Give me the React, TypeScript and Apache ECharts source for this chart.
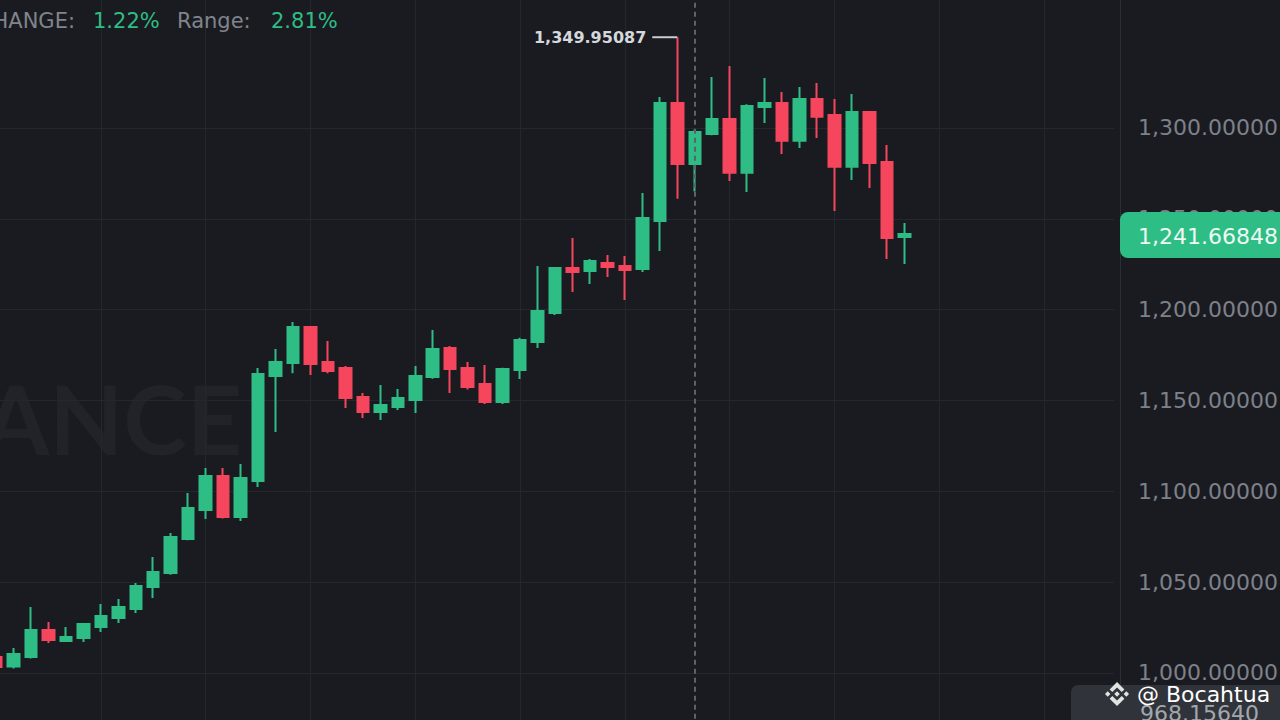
import React, { useEffect, useRef } from "react";
import * as echarts from "echarts";

// ---- data ----
const opens = [
  1008.8, 1003.5, 1008.8, 1023.7, 1017.6, 1019.3, 1025.3, 1030.3, 1035.2, 1047.3,
  1055.0, 1073.8, 1089.7, 1108.4, 1085.9, 1105.7, 1163.5, 1170.6, 1190.4, 1171.2,
  1167.9, 1151.9, 1143.7, 1146.4, 1150.3, 1162.9, 1178.9, 1167.9, 1159.1, 1149.2,
  1166.8, 1182.2, 1198.2, 1222.9, 1221.2, 1225.7, 1224.0, 1222.4, 1248.8, 1313.8,
  1280.2, 1296.7, 1305.0, 1275.3, 1311.5, 1313.8, 1292.9, 1316.0, 1307.2, 1278.6,
  1308.8, 1281.3, 1240.0,
];
const closes = [
  1003.3, 1010.5, 1023.7, 1018.2, 1019.8, 1027.0, 1031.4, 1036.3, 1047.9, 1055.6,
  1074.9, 1090.8, 1108.4, 1085.9, 1107.3, 1164.6, 1171.2, 1190.4, 1170.1, 1166.2,
  1151.4, 1143.7, 1147.5, 1151.4, 1163.5, 1178.3, 1167.3, 1157.4, 1149.2, 1167.3,
  1183.3, 1199.3, 1222.9, 1220.7, 1226.8, 1223.5, 1221.8, 1250.4, 1313.8, 1280.2,
  1297.8, 1305.0, 1275.3, 1312.1, 1313.8, 1292.9, 1316.0, 1306.2, 1278.6, 1308.8,
  1280.7, 1239.4, 1241.66848,
];
const lows = [
  1000.5, 1002.5, 1008.0, 1016.5, 1017.0, 1017.0, 1022.5, 1027.5, 1033.0, 1041.3,
  1054.0, 1073.0, 1084.8, 1085.0, 1083.7, 1102.4, 1132.6, 1165.0, 1164.0, 1165.0,
  1145.9, 1140.3, 1139.2, 1144.8, 1143.1, 1162.0, 1154.1, 1156.0, 1148.0, 1148.0,
  1161.8, 1178.9, 1197.0, 1209.7, 1214.1, 1218.0, 1205.3, 1220.7, 1232.3, 1261.0,
  1265.0, 1296.0, 1270.8, 1264.8, 1302.8, 1285.7, 1289.0, 1294.5, 1254.3, 1271.4,
  1267.0, 1227.9, 1225.1,
];
const highs = [
  1010.0, 1013.8, 1036.3, 1028.0, 1025.3, 1027.5, 1038.0, 1040.7, 1049.5, 1063.8,
  1077.0, 1099.0, 1112.8, 1112.8, 1115.0, 1167.9, 1178.3, 1193.2, 1191.0, 1182.7,
  1169.0, 1154.1, 1158.5, 1156.3, 1169.0, 1188.8, 1180.0, 1171.2, 1169.5, 1168.0,
  1184.5, 1224.0, 1223.5, 1239.4, 1227.9, 1230.1, 1229.5, 1264.2, 1317.1, 1349.95087,
  1299.0, 1328.0, 1334.1, 1313.0, 1327.5, 1319.8, 1322.6, 1324.8, 1316.0, 1318.7,
  1309.0, 1290.6, 1247.7,
];
const slotCount = 65; // candle slots on the x axis (empty ones on the right)
const categories = Array.from({ length: slotCount }, (_, i) => `C${i + 1}`);
const crosshairIndex = 40;
const highIndex = 39;
const yTicks = [950, 1000, 1050, 1100, 1150, 1200, 1250, 1300, 1350, 1400];
const hiddenTicks = [950, 1350, 1400];
const lastPriceLabel = "1,241.66848";
const lowestPriceLabel = "968.15640";
const changeLabel = "1.22%";
const rangeLabel = "2.81%";

const UP = "#2ebd85";
const DOWN = "#f6465d";
const BG = "#1a1b20";
const GRID = "#24272e";
const AXIS_TEXT = "#7d818a";
const FONT = "DejaVu Sans";

// the chart canvas is larger than the window and shifted, so that the
// plot area can extend past the window edges
const OX = 20;
const OY = 60;
const W = 1320;
const H = 840;

const fmt = (v: number) =>
  v.toLocaleString("en-US", { minimumFractionDigits: 5, maximumFractionDigits: 5 });

const logoPath =
  "M38.73 53.2L63.3 28.63l24.59 24.59 14.3-14.3L63.3 0 24.43 38.88l14.3 14.3z" +
  "M0 63.31l14.3-14.3 14.3 14.3-14.3 14.3z" +
  "M38.73 73.41L63.3 97.98l24.59-24.59 14.31 14.29-38.9 38.91-38.88-38.88-.02-.02 14.32-14.28z" +
  "M97.99 63.31l14.3-14.3 14.3 14.3-14.3 14.3z" +
  "M77.83 63.3L63.3 48.76 52.56 59.5l-1.24 1.23-2.54 2.54-.02.02.02.03L63.3 77.85l14.53-14.54.01-.01z";

let registered = false;

const txt = (x: number, y: number, text: string, fill: string, font: string, align = "left", z = 5) => ({
  type: "text",
  silent: true,
  z,
  x: x + OX,
  y: y + OY,
  style: { text, align, verticalAlign: "middle", fill, font },
});

export default function App() {
  const ref = useRef<HTMLDivElement>(null);

  useEffect(() => {
    if (!ref.current) return;
    if (!registered) {
      echarts.graphic.registerShape("logo", echarts.graphic.extendPath(logoPath, {}));
      registered = true;
    }
    const chart = echarts.init(ref.current, undefined, { renderer: "svg" });
    const candleData = opens.map((o, i) => [o, closes[i], lows[i], highs[i]]);

    // plot area in window pixels: x from -4 to 1114, y from -53.7 to 763.8
    const gLeft = -4 + OX;
    const gRight = W - (1114 + OX);
    const gTop = -53.7 + OY;
    const gBottom = H - (763.8 + OY);

    chart.setOption({
      animation: false,
      backgroundColor: BG,
      grid: { left: gLeft, right: gRight, top: gTop, bottom: gBottom, containLabel: false },
      xAxis: {
        type: "category",
        data: categories,
        boundaryGap: false,
        axisLine: { show: false },
        axisTick: { show: false },
        axisLabel: { show: false },
        splitLine: {
          show: true,
          interval: (index: number) => index % 6 === 0,
          lineStyle: { color: GRID, width: 1 },
        },
      },
      yAxis: {
        type: "value",
        position: "right",
        min: yTicks[0],
        max: yTicks[yTicks.length - 1],
        interval: 50,
        axisLine: { show: false },
        axisTick: { show: false },
        axisLabel: {
          margin: 24,
          color: AXIS_TEXT,
          fontSize: 22,
          fontFamily: FONT,
          formatter: (v: number) => (hiddenTicks.includes(v) ? "" : fmt(v)),
        },
        splitLine: {
          show: true,
          lineStyle: {
            color: yTicks.map((t) => (t === 1350 ? "rgba(0,0,0,0)" : GRID)),
            width: 1,
          },
        },
      },
      series: [
        {
          type: "candlestick",
          data: candleData,
          barWidth: 12,
          itemStyle: {
            color: UP,
            color0: DOWN,
            borderColor: UP,
            borderColor0: DOWN,
            borderWidth: 2,
          },
          markLine: {
            silent: true,
            animation: false,
            symbol: ["none", "none"],
            label: { show: false },
            lineStyle: { type: [5, 4], color: "#5d6169", width: 2 },
            data: [{ xAxis: categories[crosshairIndex] }],
          },
          markPoint: {
            silent: true,
            animation: false,
            symbol: "rect",
            symbolSize: [25, 2],
            symbolOffset: [-12.5, 0],
            itemStyle: { color: "#c8ccd2" },
            label: {
              show: true,
              position: "left",
              distance: 6,
              color: "#d5d8dd",
              fontSize: 16,
              fontWeight: "bold",
              fontFamily: FONT,
              formatter: () => fmt(highs[highIndex]),
            },
            data: [{ coord: [categories[highIndex], highs[highIndex]] }],
          },
        },
      ],
      graphic: [
        txt(242, 417, "BINANCE", "#212329", "700 96px Lato", "right", 0),
        {
          type: "line",
          silent: true,
          shape: { x1: 1120.5 + OX, y1: 0, x2: 1120.5 + OX, y2: H },
          style: { stroke: "#2b2e36", lineWidth: 1 },
        },
        txt(75, 21, "CHANGE:", "#80848c", `21px ${FONT}`, "right"),
        txt(93, 21, changeLabel, UP, `21px ${FONT}`),
        txt(177, 21, "Range:", "#80848c", `21px ${FONT}`),
        txt(271, 21, rangeLabel, UP, `21px ${FONT}`),
        {
          type: "rect",
          silent: true,
          z: 10,
          shape: { x: 1120 + OX, y: 212 + OY, width: 175, height: 46, r: 8 },
          style: { fill: UP },
        },
        txt(1138, 236, lastPriceLabel, "#eef9f4", `22px ${FONT}`, "left", 11),
        {
          type: "rect",
          silent: true,
          z: 10,
          shape: { x: 1071 + OX, y: 685 + OY, width: 230, height: 60, r: 7 },
          style: { fill: "#30333a" },
        },
        txt(1140, 713, lowestPriceLabel, "#a3a7ae", `22px ${FONT}`, "left", 11),
        {
          type: "logo",
          silent: true,
          z: 12,
          x: 1105 + OX,
          y: 682 + OY,
          scaleX: 0.19,
          scaleY: 0.19,
          style: { fill: "#dfe6e2" },
        },
        txt(1137, 694, "@ Bocahtua", "#ffffff", `22px ${FONT}`, "left", 12),
      ],
    });
    return () => chart.dispose();
  }, []);

  return (
    <div
      ref={ref}
      style={{ position: "fixed", left: -OX, top: -OY, width: W, height: H, background: BG }}
    />
  );
}
